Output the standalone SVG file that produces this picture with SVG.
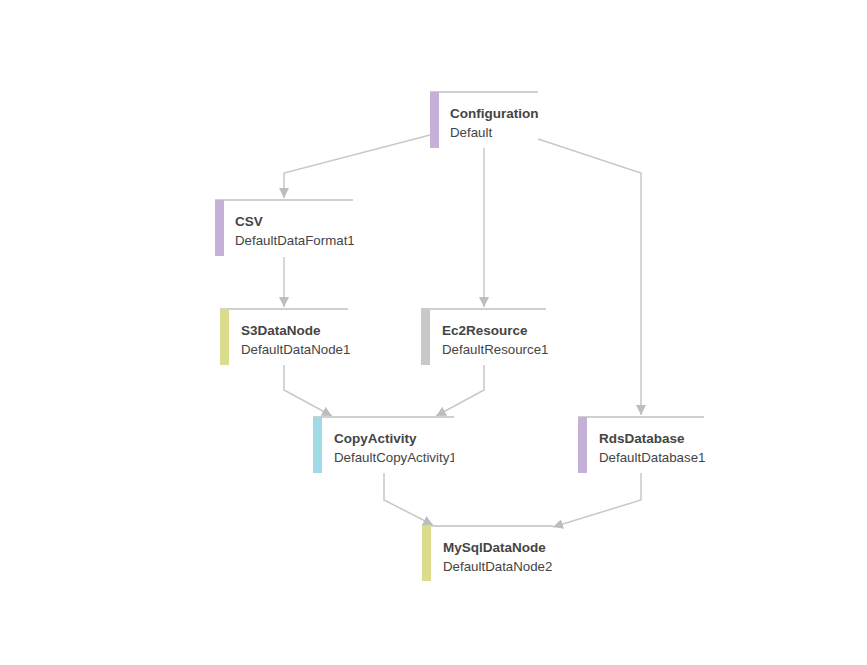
<svg xmlns="http://www.w3.org/2000/svg" width="867" height="665" viewBox="0 0 867 665">
<style>
.top{stroke:#cfcfcf;stroke-width:2;fill:none}
.t1{font-family:"Liberation Sans",Arial,sans-serif;font-size:13.5px;font-weight:bold;fill:#444}
.t2{font-family:"Liberation Sans",Arial,sans-serif;font-size:13.3px;fill:#444}
.e{stroke:#c8c8c8;stroke-width:1.5;fill:none;marker-end:url(#ah)}
.purple{fill:#c5b0d8}.yellow{fill:#dcdc8e}.grey{fill:#c8c8c8}.cyan{fill:#9fdbe7}
</style>
<defs>
<marker id="ah" viewBox="0 0 10 10" refX="10" refY="5" markerWidth="10" markerHeight="10" markerUnits="userSpaceOnUse" orient="auto">
<path d="M0,0 L10,5 L0,10 z" fill="#bdbdbd"/>
</marker>
<clipPath id="cCopy"><rect x="313" y="410" width="141" height="70"/></clipPath>
<clipPath id="cCsv"><rect x="215" y="195" width="139" height="70"/></clipPath>
</defs>
<rect width="867" height="665" fill="#fff"/>
<g id="edges">
<path class="e" d="M430,135 L284,173 L284,198"/>
<path class="e" d="M484,148 L484,307"/>
<path class="e" d="M538,139 L641,173 L641,415"/>
<path class="e" d="M284,257 L284,307"/>
<path class="e" d="M284,365 L284,390 L332,416"/>
<path class="e" d="M484,365 L484,390 L436,416"/>
<path class="e" d="M384,473 L384,500 L433,525"/>
<path class="e" d="M641,473 L641,500 L553,527"/>
</g>
<g id="configuration">
<line class="top" x1="430" y1="92" x2="538" y2="92"/>
<rect class="purple" x="430" y="92" width="9" height="56"/>
<text class="t1" x="450" y="118">Configuration</text>
<text class="t2" x="450" y="137">Default</text>
</g>
<g id="csv" clip-path="url(#cCsv)">
<line class="top" x1="215" y1="200" x2="353" y2="200"/>
<rect class="purple" x="215" y="200" width="9" height="56"/>
<text class="t1" x="235" y="226">CSV</text>
<text class="t2" x="235" y="245">DefaultDataFormat1</text>
</g>
<g id="s3datanode">
<line class="top" x1="220" y1="309" x2="348" y2="309"/>
<rect class="yellow" x="220" y="309" width="9" height="56"/>
<text class="t1" x="241" y="335">S3DataNode</text>
<text class="t2" x="241" y="354">DefaultDataNode1</text>
</g>
<g id="ec2resource">
<line class="top" x1="421" y1="309" x2="546" y2="309"/>
<rect class="grey" x="421" y="309" width="9" height="56"/>
<text class="t1" x="442" y="335">Ec2Resource</text>
<text class="t2" x="442" y="354">DefaultResource1</text>
</g>
<g id="copyactivity" clip-path="url(#cCopy)">
<line class="top" x1="313" y1="417" x2="455" y2="417"/>
<rect class="cyan" x="313" y="417" width="9" height="56"/>
<text class="t1" x="334" y="443">CopyActivity</text>
<text class="t2" x="334" y="462">DefaultCopyActivity1</text>
</g>
<g id="rdsdatabase">
<line class="top" x1="578" y1="417" x2="704" y2="417"/>
<rect class="purple" x="578" y="417" width="9" height="56"/>
<text class="t1" x="599" y="443">RdsDatabase</text>
<text class="t2" x="599" y="462">DefaultDatabase1</text>
</g>
<g id="mysqldatanode">
<line class="top" x1="422" y1="526" x2="553" y2="526"/>
<rect class="yellow" x="422" y="526" width="9" height="55"/>
<text class="t1" x="443" y="552">MySqlDataNode</text>
<text class="t2" x="443" y="571">DefaultDataNode2</text>
</g>
</svg>
